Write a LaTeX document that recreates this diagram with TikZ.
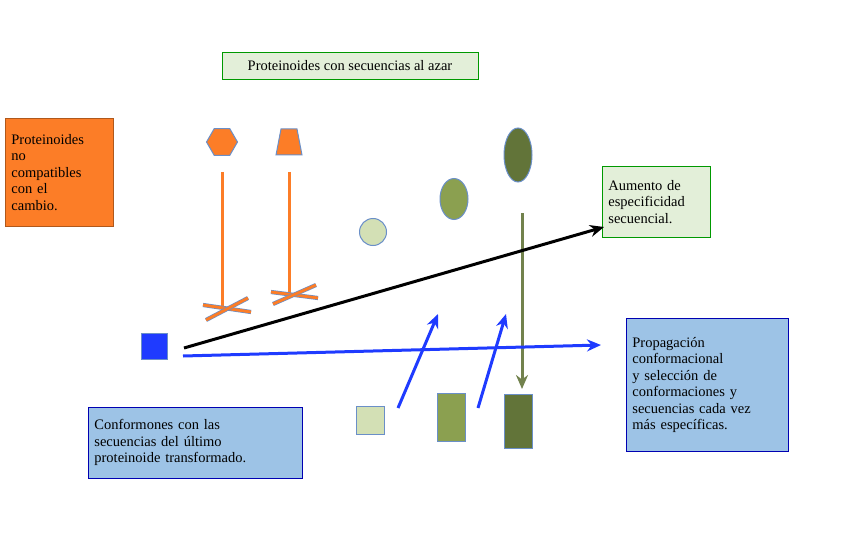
\documentclass[tikz,border=0pt]{standalone}
\usepackage{fontspec}
\setmainfont{Liberation Serif}
\usetikzlibrary{shapes.geometric,arrows.meta}
\definecolor{lg}{HTML}{D3E0B5}
\definecolor{mg}{HTML}{8BA050}
\definecolor{dg}{HTML}{627439}
\definecolor{og}{HTML}{FC7D27}
\definecolor{lb}{HTML}{9DC3E6}
\definecolor{bd}{HTML}{6A8FC8}
\definecolor{gb}{HTML}{E3EFD9}
\definecolor{bl}{HTML}{1F3BFF}
\begin{document}
\begin{tikzpicture}[x=1pt,y=-1pt,
  txt/.style={draw, line width=0.8pt, font=\fontsize{14.5}{16.5}\selectfont, align=left, anchor=north west, inner sep=6pt},
  shp/.style={draw=bd, line width=1pt},
  oline/.style={draw=og, line width=3pt},
  arr/.style={line width=3pt, -{Stealth[length=14pt,width=12pt]}}]
\useasboundingbox (0,0) rectangle (845,540);
\node[txt, draw=green!60!black, fill=gb, minimum width=256pt, minimum height=27pt, anchor=center] (t) at (350,65.5) {Proteinoides con secuencias al azar};
\node[txt, draw=og!70!black, fill=og, text width=96pt, minimum height=108pt] (o) at (5,118) {Proteinoides\\no\\compatibles\\con el\\cambio.};
\node[txt, draw=green!60!black, fill=gb, text width=96pt, minimum height=71pt] (a) at (602,166) {Aumento de\\especificidad\\secuencial.};
\node[txt, draw=blue!70!black, fill=lb, text width=150pt, minimum height=133pt] (p) at (626,318) {Propagación\\conformacional\\y selección de\\conformaciones y\\secuencias cada vez\\más específicas.};
\node[txt, draw=blue!70!black, fill=lb, text width=202pt, minimum height=71pt] (c) at (88,407) {Conformones con las\\secuencias del último\\proteinoide transformado.};
% orange shapes
\node[shp, regular polygon, regular polygon sides=6, fill=og, minimum size=31pt, inner sep=0pt] (h) at (222,142) {};
\coordinate (tr) at (289,142);
\draw[shp, fill=og] (276,155) -- (302,155) -- (297,129) -- (281,129) -- cycle;
\coordinate (h1) at (222,172); \coordinate (h2) at (222,306);
\coordinate (t1) at (289,172); \coordinate (t2) at (289,296);
\foreach \a/\b in {h1/h2,t1/t2} \draw[oline] (\a) -- (\b);
\foreach \p/\q in {{(203,305)}/{(251,312)},{(206,320)}/{(248,298)},{(271,292)}/{(318,298)},{(273,304)}/{(316,285)}}{
  \draw[bd, line width=4.2pt] \p -- \q; \draw[og, line width=2.8pt] \p -- \q;}
% green shapes
\node[shp, circle, fill=lg, minimum size=27pt, inner sep=0pt] (e1) at (373,232) {};
\node[shp, ellipse, fill=mg, minimum width=28pt, minimum height=41pt, inner sep=0pt] (e2) at (454,199) {};
\node[shp, ellipse, fill=dg, minimum width=28pt, minimum height=54pt, inner sep=0pt] (e3) at (518,155) {};
\node[shp, rectangle, fill=lg, minimum width=28pt, minimum height=28pt, inner sep=0pt] (r1) at (370,420) {};
\node[shp, rectangle, fill=mg, minimum width=28pt, minimum height=48pt, inner sep=0pt] (r2) at (451,417) {};
\node[shp, rectangle, fill=dg, minimum width=28pt, minimum height=54pt, inner sep=0pt] (r3) at (518,421) {};
\node[shp, rectangle, fill=bl, minimum width=26pt, minimum height=26pt, inner sep=0pt] (bs) at (154,346) {};
% arrows
\coordinate (g1) at (522,213); \coordinate (g2) at (522,389);
\draw[arr, draw=dg!90!white, fill=dg!90!white] (g1) -- (g2);
\coordinate (k1) at (184,348); \coordinate (k2) at (604,227);
\draw[arr, black] (k1) -- (k2);
\coordinate (b1) at (183,356); \coordinate (b2) at (601,345);
\draw[arr, bl] (b1) -- (b2);
\coordinate (s1) at (398,408); \coordinate (s2) at (438,314);
\coordinate (u1) at (478,408); \coordinate (u2) at (506,314);
\draw[arr, bl] (s1) -- (s2);
\draw[arr, bl] (u1) -- (u2);
\end{tikzpicture}
\end{document}
